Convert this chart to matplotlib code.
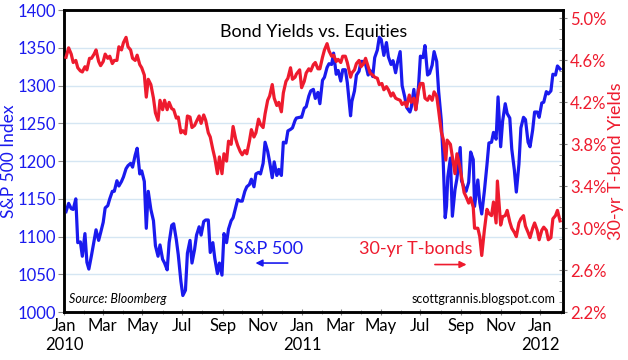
import numpy as np
import pandas as pd
import matplotlib
matplotlib.use("Agg")
import matplotlib.pyplot as plt
import matplotlib.dates as mdates
from matplotlib.ticker import MultipleLocator, FixedLocator, FuncFormatter

plt.rcParams["font.family"] = ["Lato", "DejaVu Sans"]

# S&P 500 index
spx_dates = [
    "2010-01-04", "2010-01-08", "2010-01-12", "2010-01-15", "2010-01-19", "2010-01-22", "2010-01-26", "2010-01-29",
    "2010-02-02", "2010-02-05", "2010-02-08", "2010-02-12", "2010-02-16", "2010-02-19", "2010-02-23", "2010-02-26",
    "2010-03-02", "2010-03-05", "2010-03-09", "2010-03-12", "2010-03-16", "2010-03-19", "2010-03-23", "2010-03-26",
    "2010-03-30", "2010-04-02", "2010-04-06", "2010-04-09", "2010-04-13", "2010-04-16", "2010-04-20", "2010-04-23",
    "2010-04-27", "2010-04-30", "2010-05-04", "2010-05-07", "2010-05-10", "2010-05-14", "2010-05-18", "2010-05-21",
    "2010-05-25", "2010-05-28", "2010-06-01", "2010-06-04", "2010-06-08", "2010-06-11", "2010-06-15", "2010-06-18",
    "2010-06-22", "2010-06-25", "2010-06-29", "2010-07-02", "2010-07-06", "2010-07-09", "2010-07-13", "2010-07-16",
    "2010-07-20", "2010-07-23", "2010-07-27", "2010-07-30", "2010-08-03", "2010-08-06", "2010-08-10", "2010-08-13",
    "2010-08-17", "2010-08-20", "2010-08-24", "2010-08-27", "2010-08-31", "2010-09-03", "2010-09-07", "2010-09-10",
    "2010-09-14", "2010-09-17", "2010-09-21", "2010-09-24", "2010-09-28", "2010-10-01", "2010-10-05", "2010-10-08",
    "2010-10-12", "2010-10-15", "2010-10-19", "2010-10-22", "2010-10-26", "2010-10-29", "2010-11-02", "2010-11-05",
    "2010-11-09", "2010-11-12", "2010-11-16", "2010-11-19", "2010-11-23", "2010-11-26", "2010-11-30", "2010-12-03",
    "2010-12-07", "2010-12-10", "2010-12-14", "2010-12-17", "2010-12-21", "2010-12-23", "2010-12-28", "2010-12-31",
    "2011-01-04", "2011-01-07", "2011-01-11", "2011-01-14", "2011-01-18", "2011-01-21", "2011-01-25", "2011-01-28",
    "2011-02-01", "2011-02-04", "2011-02-08", "2011-02-11", "2011-02-15", "2011-02-18", "2011-02-22", "2011-02-25",
    "2011-03-01", "2011-03-04", "2011-03-08", "2011-03-11", "2011-03-16", "2011-03-18", "2011-03-22", "2011-03-25",
    "2011-03-29", "2011-04-01", "2011-04-05", "2011-04-08", "2011-04-12", "2011-04-15", "2011-04-19", "2011-04-22",
    "2011-04-26", "2011-04-29", "2011-05-02", "2011-05-06", "2011-05-10", "2011-05-13", "2011-05-17", "2011-05-20",
    "2011-05-24", "2011-05-27", "2011-05-31", "2011-06-03", "2011-06-07", "2011-06-10", "2011-06-15", "2011-06-17",
    "2011-06-21", "2011-06-24", "2011-06-28", "2011-07-01", "2011-07-05", "2011-07-08", "2011-07-12", "2011-07-15",
    "2011-07-19", "2011-07-22", "2011-07-26", "2011-07-29", "2011-08-02", "2011-08-05", "2011-08-08", "2011-08-10",
    "2011-08-12", "2011-08-16", "2011-08-19", "2011-08-23", "2011-08-26", "2011-08-31", "2011-09-02", "2011-09-06",
    "2011-09-09", "2011-09-13", "2011-09-16", "2011-09-20", "2011-09-22", "2011-09-27", "2011-09-30", "2011-10-03",
    "2011-10-07", "2011-10-11", "2011-10-14", "2011-10-18", "2011-10-21", "2011-10-25", "2011-10-28", "2011-11-01",
    "2011-11-04", "2011-11-08", "2011-11-11", "2011-11-15", "2011-11-18", "2011-11-22", "2011-11-25", "2011-11-29",
    "2011-12-02", "2011-12-06", "2011-12-09", "2011-12-13", "2011-12-16", "2011-12-20", "2011-12-23", "2011-12-27",
    "2011-12-30", "2012-01-03", "2012-01-06", "2012-01-10", "2012-01-13", "2012-01-17", "2012-01-20", "2012-01-24",
    "2012-01-27", "2012-01-31",
]
spx = [
    1133, 1144, 1137, 1136, 1150, 1092, 1093, 1074,
    1104, 1066, 1057, 1075, 1094, 1109, 1095, 1105,
    1119, 1138, 1141, 1150, 1160, 1160, 1174, 1167,
    1173, 1179, 1190, 1194, 1197, 1192, 1208, 1217,
    1183, 1187, 1173, 1111, 1160, 1136, 1121, 1088,
    1074, 1089, 1070, 1065, 1056, 1092, 1115, 1117,
    1096, 1076, 1041, 1022, 1029, 1078, 1095, 1065,
    1083, 1102, 1113, 1102, 1120, 1122, 1122, 1079,
    1092, 1071, 1051, 1065, 1049, 1104, 1092, 1110,
    1121, 1125, 1139, 1149, 1147, 1147, 1160, 1166,
    1169, 1176, 1166, 1183, 1185, 1183, 1197, 1225,
    1213, 1199, 1178, 1199, 1181, 1189, 1181, 1225,
    1224, 1240, 1242, 1244, 1254, 1257, 1258, 1258,
    1270, 1272, 1286, 1293, 1295, 1283, 1291, 1276,
    1307, 1311, 1324, 1329, 1328, 1343, 1315, 1320,
    1306, 1321, 1321, 1304, 1260, 1279, 1293, 1314,
    1319, 1332, 1332, 1328, 1314, 1320, 1312, 1337,
    1347, 1364, 1361, 1340, 1357, 1338, 1328, 1333,
    1317, 1331, 1345, 1300, 1285, 1271, 1265, 1271,
    1295, 1268, 1297, 1339, 1337, 1353, 1314, 1316,
    1327, 1345, 1332, 1292, 1254, 1199, 1125, 1140,
    1179, 1204, 1127, 1162, 1177, 1218, 1174, 1165,
    1160, 1172, 1212, 1202, 1140, 1175, 1145, 1130,
    1160, 1195, 1224, 1225, 1238, 1229, 1285, 1219,
    1253, 1276, 1263, 1257, 1216, 1188, 1159, 1196,
    1244, 1258, 1255, 1225, 1219, 1241, 1265, 1265,
    1258, 1277, 1278, 1292, 1289, 1293, 1315, 1314,
    1326, 1322,
]

# 30-yr Treasury yield (%)
ust_dates = [
    "2010-01-04", "2010-01-08", "2010-01-12", "2010-01-15", "2010-01-19", "2010-01-22", "2010-01-26", "2010-01-29",
    "2010-02-02", "2010-02-05", "2010-02-09", "2010-02-12", "2010-02-16", "2010-02-19", "2010-02-23", "2010-02-26",
    "2010-03-02", "2010-03-05", "2010-03-09", "2010-03-12", "2010-03-16", "2010-03-19", "2010-03-23", "2010-03-26",
    "2010-03-30", "2010-04-02", "2010-04-06", "2010-04-09", "2010-04-13", "2010-04-16", "2010-04-20", "2010-04-23",
    "2010-04-27", "2010-04-30", "2010-05-04", "2010-05-07", "2010-05-10", "2010-05-14", "2010-05-18", "2010-05-21",
    "2010-05-25", "2010-05-28", "2010-06-01", "2010-06-04", "2010-06-08", "2010-06-11", "2010-06-15", "2010-06-18",
    "2010-06-22", "2010-06-25", "2010-06-29", "2010-07-02", "2010-07-06", "2010-07-09", "2010-07-13", "2010-07-16",
    "2010-07-20", "2010-07-23", "2010-07-27", "2010-07-30", "2010-08-03", "2010-08-06", "2010-08-10", "2010-08-13",
    "2010-08-17", "2010-08-20", "2010-08-24", "2010-08-27", "2010-08-31", "2010-09-03", "2010-09-07", "2010-09-10",
    "2010-09-14", "2010-09-17", "2010-09-21", "2010-09-24", "2010-09-28", "2010-10-01", "2010-10-05", "2010-10-08",
    "2010-10-12", "2010-10-15", "2010-10-19", "2010-10-22", "2010-10-26", "2010-10-29", "2010-11-02", "2010-11-05",
    "2010-11-09", "2010-11-12", "2010-11-16", "2010-11-19", "2010-11-23", "2010-11-26", "2010-11-30", "2010-12-03",
    "2010-12-07", "2010-12-10", "2010-12-14", "2010-12-17", "2010-12-21", "2010-12-23", "2010-12-28", "2010-12-31",
    "2011-01-04", "2011-01-07", "2011-01-11", "2011-01-14", "2011-01-18", "2011-01-21", "2011-01-25", "2011-01-28",
    "2011-02-01", "2011-02-04", "2011-02-08", "2011-02-11", "2011-02-15", "2011-02-18", "2011-02-22", "2011-02-25",
    "2011-03-01", "2011-03-04", "2011-03-08", "2011-03-11", "2011-03-16", "2011-03-18", "2011-03-22", "2011-03-25",
    "2011-03-29", "2011-04-01", "2011-04-05", "2011-04-08", "2011-04-12", "2011-04-15", "2011-04-19", "2011-04-22",
    "2011-04-26", "2011-04-29", "2011-05-03", "2011-05-06", "2011-05-10", "2011-05-13", "2011-05-17", "2011-05-20",
    "2011-05-24", "2011-05-27", "2011-05-31", "2011-06-03", "2011-06-07", "2011-06-10", "2011-06-14", "2011-06-17",
    "2011-06-21", "2011-06-24", "2011-06-28", "2011-07-01", "2011-07-05", "2011-07-08", "2011-07-12", "2011-07-15",
    "2011-07-19", "2011-07-22", "2011-07-26", "2011-07-29", "2011-08-02", "2011-08-05", "2011-08-09", "2011-08-11",
    "2011-08-16", "2011-08-19", "2011-08-23", "2011-08-26", "2011-08-30", "2011-09-02", "2011-09-06", "2011-09-09",
    "2011-09-13", "2011-09-16", "2011-09-20", "2011-09-22", "2011-09-27", "2011-09-30", "2011-10-03", "2011-10-07",
    "2011-10-11", "2011-10-14", "2011-10-18", "2011-10-21", "2011-10-25", "2011-10-27", "2011-11-01", "2011-11-04",
    "2011-11-08", "2011-11-11", "2011-11-15", "2011-11-18", "2011-11-22", "2011-11-25", "2011-11-29", "2011-12-02",
    "2011-12-06", "2011-12-09", "2011-12-13", "2011-12-16", "2011-12-20", "2011-12-23", "2011-12-27", "2011-12-30",
    "2012-01-03", "2012-01-06", "2012-01-10", "2012-01-13", "2012-01-17", "2012-01-20", "2012-01-24", "2012-01-27",
    "2012-01-31",
]
ust = [
    4.63, 4.72, 4.66, 4.58, 4.60, 4.53, 4.50, 4.49,
    4.54, 4.51, 4.62, 4.62, 4.66, 4.70, 4.59, 4.55,
    4.59, 4.66, 4.62, 4.64, 4.57, 4.60, 4.60, 4.73,
    4.70, 4.77, 4.82, 4.73, 4.70, 4.62, 4.60, 4.65,
    4.56, 4.53, 4.46, 4.25, 4.42, 4.37, 4.24, 4.10,
    4.03, 4.22, 4.13, 4.22, 4.13, 4.20, 4.14, 4.13,
    4.05, 4.06, 3.91, 3.93, 3.90, 4.07, 4.06, 3.96,
    3.98, 4.02, 4.07, 4.00, 4.08, 4.03, 3.91, 3.87,
    3.75, 3.67, 3.52, 3.68, 3.52, 3.71, 3.64, 3.83,
    3.80, 3.97, 3.85, 3.79, 3.73, 3.70, 3.74, 3.71,
    3.83, 3.94, 3.87, 3.91, 4.04, 3.99, 3.96, 4.09,
    4.22, 4.26, 4.37, 4.24, 4.17, 4.20, 4.11, 4.29,
    4.40, 4.43, 4.53, 4.42, 4.44, 4.47, 4.51, 4.34,
    4.40, 4.48, 4.52, 4.50, 4.56, 4.58, 4.52, 4.52,
    4.63, 4.70, 4.76, 4.69, 4.64, 4.65, 4.59, 4.61,
    4.58, 4.64, 4.64, 4.58, 4.44, 4.48, 4.51, 4.57,
    4.60, 4.54, 4.57, 4.62, 4.54, 4.48, 4.46, 4.44,
    4.43, 4.37, 4.38, 4.32, 4.35, 4.32, 4.26, 4.29,
    4.24, 4.23, 4.22, 4.18, 4.20, 4.16, 4.27, 4.20,
    4.24, 4.13, 4.31, 4.38, 4.38, 4.24, 4.22, 4.26,
    4.22, 4.30, 4.26, 4.12, 3.92, 3.85, 3.65, 3.84,
    3.80, 3.68, 3.52, 3.71, 3.60, 3.49, 3.34, 3.30,
    3.24, 3.29, 3.20, 3.00, 3.00, 2.92, 2.74, 2.98,
    3.18, 3.14, 3.12, 3.25, 3.05, 3.45, 3.03, 3.11,
    3.12, 3.17, 3.06, 3.00, 2.96, 2.92, 3.05, 3.09,
    3.12, 3.02, 2.96, 2.91, 3.00, 3.05, 2.98, 2.89,
    2.98, 3.01, 2.98, 2.89, 2.91, 3.09, 3.12, 3.17,
    3.07,
]

yield_ticks = [2.2, 2.6, 3.0, 3.4, 3.8, 4.2, 4.6, 5.0]

blue = "#1a1aee"
red = "#ee1b2e"

fig = plt.figure(figsize=(6.28, 3.6), dpi=100)
ax = fig.add_axes([0.102, 0.133, 0.795, 0.839])
ax2 = ax.twinx()

x1 = pd.to_datetime(spx_dates)
x2 = pd.to_datetime(ust_dates)

ax.plot(x1, spx, color=blue, lw=2.3, zorder=3)
ax2.plot(x2, ust, color=red, lw=2.3, zorder=3)

ax.set_xlim(pd.Timestamp("2010-01-01"), pd.Timestamp("2012-02-05"))
ax.set_ylim(1000, 1400)
ax2.set_ylim(2.2, 5.08)

# grid
ax.yaxis.set_major_locator(MultipleLocator(50))
ax.grid(axis="y", color="#d5e6f3", lw=1.0)
ax.set_axisbelow(True)

# x ticks
def xfmt(v, pos):
    d = mdates.num2date(v)
    s = d.strftime("%b")
    if d.month == 1:
        s += "\n" + str(d.year)
    return s

ax.xaxis.set_major_locator(mdates.MonthLocator(bymonth=[1, 3, 5, 7, 9, 11]))
ax.xaxis.set_minor_locator(mdates.MonthLocator())
ax.xaxis.set_major_formatter(FuncFormatter(xfmt))
ax.tick_params(axis="x", which="major", labelsize=12, length=5, direction="inout", pad=2, color="#888888")
ax.tick_params(axis="x", which="minor", length=3, direction="inout", color="#888888")
for lab in ax.get_xticklabels():
    lab.set_horizontalalignment("center")

ax.tick_params(axis="y", labelsize=12, labelcolor=blue, length=4, direction="out", color="#888888", pad=2)
ax2.yaxis.set_major_locator(FixedLocator(yield_ticks))
ax2.yaxis.set_minor_locator(MultipleLocator(0.1))
ax2.yaxis.set_major_formatter(FuncFormatter(lambda v, p: "%.1f%%" % v))
ax2.tick_params(axis="y", which="major", labelsize=12, labelcolor=red, length=6, direction="inout", color="#888888", pad=2)
ax2.tick_params(axis="y", which="minor", length=3, direction="in", color="#888888")

for a in (ax, ax2):
    for sp in a.spines.values():
        sp.set_linewidth(1.8)
        sp.set_color("black")

ax.set_ylabel("S&P 500 Index", color=blue, fontsize=12.5, labelpad=0)
ax2.set_ylabel("30-yr T-bond Yields", color=red, fontsize=13, labelpad=1)

ax.text(0.5, 0.955, "Bond Yields vs. Equities", transform=ax.transAxes, ha="center", va="top", fontsize=13)
ax.text(0.01, 0.025, "Source: Bloomberg", transform=ax.transAxes, ha="left", va="bottom",
        fontsize=9, style="italic")
ax.text(0.985, 0.025, "scottgrannis.blogspot.com", transform=ax.transAxes, ha="right", va="bottom", fontsize=9)

ax.text(pd.Timestamp("2010-09-19"), 1084, "S&P 500", color=blue, fontsize=13, ha="left", va="center")
ax.annotate("", xy=(pd.Timestamp("2010-10-17"), 1065), xytext=(pd.Timestamp("2010-12-14"), 1065),
            arrowprops=dict(arrowstyle="-|>", color=blue, lw=1.2, mutation_scale=10))
ax.text(pd.Timestamp("2011-03-29"), 1084, "30-yr T-bonds", color=red, fontsize=13, ha="left", va="center")
ax.annotate("", xy=(pd.Timestamp("2011-09-14"), 1063), xytext=(pd.Timestamp("2011-07-19"), 1063),
            arrowprops=dict(arrowstyle="-|>", color=red, lw=1.2, mutation_scale=10))

fig.savefig("out.png", dpi=100)
